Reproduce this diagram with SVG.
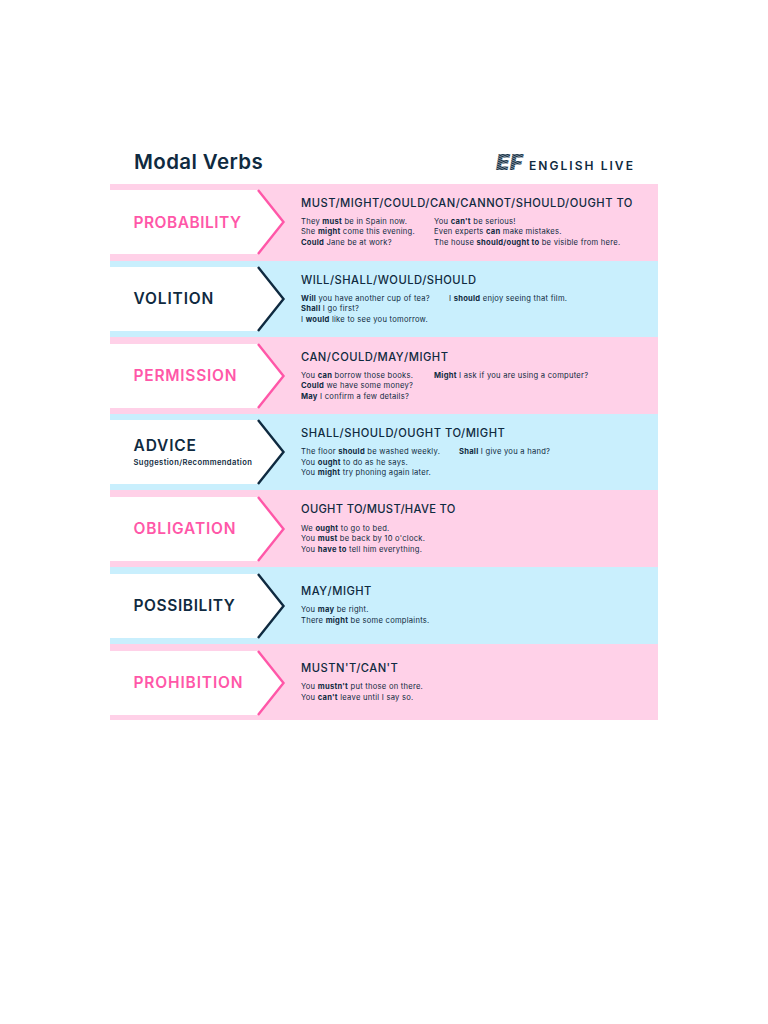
<svg xmlns="http://www.w3.org/2000/svg" width="768" height="1024" viewBox="0 0 768 1024">
<style>
text{font-family:"Inter","Liberation Sans",sans-serif;fill:#0f2a40}
.pink{fill:#ffd1e8}.blue{fill:#c9effd}.tab{fill:#fff}
.cp,.cn{fill:none;stroke-width:2.4}.cp{stroke:#ff57a8}.cn{stroke:#0f2a40}
.cat{font-size:15.5px;font-weight:600;letter-spacing:.85px}.catp{fill:#ff57a8}
.sub{font-size:7.6px;font-weight:600;letter-spacing:.4px}
.h{font-size:11.2px;font-weight:500;letter-spacing:.49px}
.b{font-size:7.6px;letter-spacing:.25px}.b tspan{font-weight:700}
</style>
<defs>
<pattern id="hatch" width="2" height="2" patternUnits="userSpaceOnUse" patternTransform="rotate(25)"><rect width="2" height="2" fill="#0f2a40"/><rect width="2" height=".5" fill="#fff"/></pattern>
</defs>
<rect width="768" height="1024" fill="#fff"/>
<g id="header">
<text x="134" y="169" font-size="20.5" font-weight="600" letter-spacing=".38">Modal Verbs</text>
<text x="496" y="170" font-size="22" font-weight="900" font-style="italic" style="fill:url(#hatch)">EF</text>
<text x="529" y="169.500" font-size="12" font-weight="600" letter-spacing="2.050">ENGLISH LIVE</text>
</g>
<g id="bands">
<rect class="pink" x="110" y="184" width="548" height="77"/>
<rect class="blue" x="110" y="261" width="548" height="76"/>
<rect class="pink" x="110" y="337" width="548" height="77"/>
<rect class="blue" x="110" y="414" width="548" height="76"/>
<rect class="pink" x="110" y="490" width="548" height="77"/>
<rect class="blue" x="110" y="567" width="548" height="77"/>
<rect class="pink" x="110" y="644" width="548" height="76"/>
</g>
<g id="probability">
<path class="tab" d="M110 190H258L284 222L258 254H110Z"/><path class="cp" d="M258 190L283.500 222L258 254"/>
<text class="cat catp" x="133.500" y="227.500" style="letter-spacing:.5px">PROBABILITY</text>
<text class="h" x="301" y="206.500">MUST/MIGHT/COULD/CAN/CANNOT/SHOULD/OUGHT TO</text>
<text class="b" x="301" y="223.500">They <tspan>must</tspan> be in Spain now.</text>
<text class="b" x="301" y="234">She <tspan>might</tspan> come this evening.</text>
<text class="b" x="301" y="244.500"><tspan>Could</tspan> Jane be at work?</text>
<text class="b" x="434" y="223.500">You <tspan>can't</tspan> be serious!</text>
<text class="b" x="434" y="234">Even experts <tspan>can</tspan> make mistakes.</text>
<text class="b" x="434" y="244.500">The house <tspan>should/ought to</tspan> be visible from here.</text>
</g>
<g id="volition">
<path class="tab" d="M110 267H258L284 299L258 331H110Z"/><path class="cn" d="M258 267L283.500 299L258 331"/>
<text class="cat" x="133.500" y="304">VOLITION</text>
<text class="h" x="301" y="283.500">WILL/SHALL/WOULD/SHOULD</text>
<text class="b" x="301" y="300.500"><tspan>Will</tspan> you have another cup of tea?</text>
<text class="b" x="301" y="311"><tspan>Shall</tspan> I go first?</text>
<text class="b" x="301" y="321.500">I <tspan>would</tspan> like to see you tomorrow.</text>
<text class="b" x="449" y="300.500">I <tspan>should</tspan> enjoy seeing that film.</text>
</g>
<g id="permission">
<path class="tab" d="M110 344H258L284 376L258 408H110Z"/><path class="cp" d="M258 344L283.500 376L258 408"/>
<text class="cat catp" x="133.500" y="381" style="letter-spacing:.75px">PERMISSION</text>
<text class="h" x="301" y="360.500">CAN/COULD/MAY/MIGHT</text>
<text class="b" x="301" y="377.500">You <tspan>can</tspan> borrow those books.</text>
<text class="b" x="301" y="388"><tspan>Could</tspan> we have some money?</text>
<text class="b" x="301" y="398.500"><tspan>May</tspan> I confirm a few details?</text>
<text class="b" x="434" y="377.500"><tspan>Might</tspan> I ask if you are using a computer?</text>
</g>
<g id="advice">
<path class="tab" d="M110 420H258L284 452L258 484H110Z"/><path class="cn" d="M258 420L283.500 452L258 484"/>
<text class="cat" x="133.500" y="451">ADVICE</text>
<text class="sub" x="133.500" y="464.500">Suggestion/Recommendation</text>
<text class="h" x="301" y="437">SHALL/SHOULD/OUGHT TO/MIGHT</text>
<text class="b" x="301" y="454">The floor <tspan>should</tspan> be washed weekly.</text>
<text class="b" x="301" y="464.500">You <tspan>ought</tspan> to do as he says.</text>
<text class="b" x="301" y="475">You <tspan>might</tspan> try phoning again later.</text>
<text class="b" x="459" y="454"><tspan>Shall</tspan> I give you a hand?</text>
</g>
<g id="obligation">
<path class="tab" d="M110 497H258L284 529L258 561H110Z"/><path class="cp" d="M258 497L283.500 529L258 561"/>
<text class="cat catp" x="133.500" y="534">OBLIGATION</text>
<text class="h" x="301" y="513" style="letter-spacing:.3px">OUGHT TO/MUST/HAVE TO</text>
<text class="b" x="301" y="530.500">We <tspan>ought</tspan> to go to bed.</text>
<text class="b" x="301" y="541">You <tspan>must</tspan> be back by 10 o'clock.</text>
<text class="b" x="301" y="551.500">You <tspan>have to</tspan> tell him everything.</text>
</g>
<g id="possibility">
<path class="tab" d="M110 574H258L284 606L258 638H110Z"/><path class="cp cn" d="M258 574L283.500 606L258 638" style="stroke:#0f2a40"/>
<text class="cat" x="133.500" y="611" style="letter-spacing:.6px">POSSIBILITY</text>
<text class="h" x="301" y="595">MAY/MIGHT</text>
<text class="b" x="301" y="612">You <tspan>may</tspan> be right.</text>
<text class="b" x="301" y="622.500">There <tspan>might</tspan> be some complaints.</text>
</g>
<g id="prohibition">
<path class="tab" d="M110 651H258L284 683L258 715H110Z"/><path class="cp" d="M258 651L283.500 683L258 715"/>
<text class="cat catp" x="133.500" y="688">PROHIBITION</text>
<text class="h" x="301" y="671.500">MUSTN'T/CAN'T</text>
<text class="b" x="301" y="689">You <tspan>mustn't</tspan> put those on there.</text>
<text class="b" x="301" y="699.500">You <tspan>can't</tspan> leave until I say so.</text>
</g>
</svg>
